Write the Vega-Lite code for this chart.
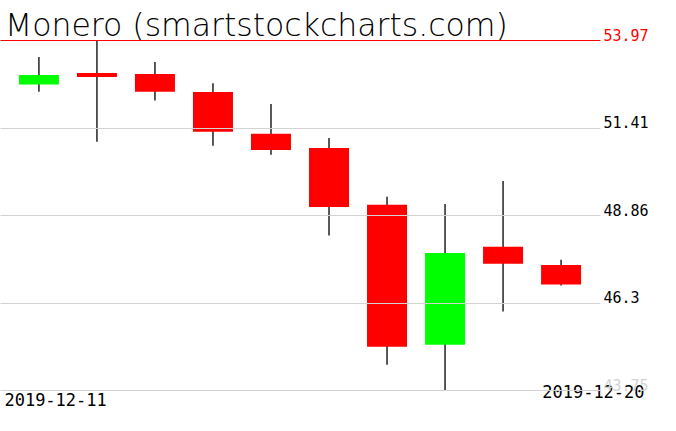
{
  "$schema": "https://vega.github.io/schema/vega-lite/v6.json",
  "width": 600,
  "height": 350,
  "autosize": {"type": "none"},
  "padding": {"left": 0, "top": 40, "right": 76, "bottom": 41},
  "background": "white",
  "config": {"view": {"stroke": null}},
  "title": {
    "text": "Monero (smartstockcharts.com)",
    "anchor": "start",
    "frame": "group",
    "font": "DejaVu Sans",
    "fontWeight": 200,
    "fontSize": 31.5,
    "color": "black",
    "baseline": "alphabetic",
    "offset": -39,
    "dx": 5
  },
  "data": {
    "values": [
      {"date": "2019-12-11", "open": 52.67, "high": 53.47, "low": 52.46, "close": 52.95},
      {"date": "2019-12-12", "open": 53.01, "high": 53.97, "low": 51.00, "close": 52.89},
      {"date": "2019-12-13", "open": 52.98, "high": 53.33, "low": 52.20, "close": 52.46},
      {"date": "2019-12-14", "open": 52.45, "high": 52.71, "low": 50.88, "close": 51.29},
      {"date": "2019-12-15", "open": 51.23, "high": 52.10, "low": 50.62, "close": 50.76},
      {"date": "2019-12-16", "open": 50.82, "high": 51.11, "low": 48.26, "close": 49.09},
      {"date": "2019-12-17", "open": 49.16, "high": 49.39, "low": 44.49, "close": 45.01},
      {"date": "2019-12-18", "open": 45.07, "high": 49.18, "low": 43.75, "close": 47.75},
      {"date": "2019-12-19", "open": 47.93, "high": 49.85, "low": 46.04, "close": 47.44},
      {"date": "2019-12-20", "open": 47.40, "high": 47.55, "low": 46.80, "close": 46.83}
    ]
  },
  "encoding": {
    "x": {
      "field": "date",
      "type": "ordinal",
      "scale": {"type": "point", "padding": 0.671},
      "axis": {
        "orient": "bottom",
        "values": ["2019-12-11", "2019-12-20"],
        "domain": false,
        "ticks": false,
        "grid": false,
        "title": null,
        "labelAngle": 0,
        "labelFont": "DejaVu Sans Mono",
        "labelFontSize": 17,
        "labelColor": "black",
        "labelBaseline": "top",
        "labelOverlap": false,
        "labelAlign": {"condition": {"test": "datum.value == '2019-12-11'", "value": "left"}, "value": "right"},
        "labelOffset": {"condition": {"test": "datum.value == '2019-12-11'", "value": -35}, "value": 83},
        "labelPadding": {"condition": {"test": "datum.value == '2019-12-11'", "value": 2}, "value": -6}
      }
    }
  },
  "layer": [
    {
      "mark": {"type": "rule", "color": "black", "strokeWidth": 1.3},
      "encoding": {
        "y": {
          "field": "low",
          "type": "quantitative",
          "scale": {"domain": [43.75, 53.97], "zero": false, "nice": false},
          "axis": {
            "orient": "right",
            "values": [43.75, 46.3, 48.86, 51.41, 53.97],
            "format": ".4~r",
            "domain": false,
            "ticks": false,
            "grid": true,
            "gridOpacity": 1,
            "gridWidth": 1,
            "gridColor": {"condition": {"test": "datum.value == 53.97", "value": "#ff0000"}, "value": "#d3d3d3"},
            "labelColor": {"condition": [{"test": "datum.value == 53.97", "value": "#ff0000"}, {"test": "datum.value == 43.75", "value": "#d3d3d3"}], "value": "black"},
            "labelFont": "DejaVu Sans Mono",
            "labelFontSize": 15,
            "labelBaseline": "alphabetic",
            "labelPadding": 3,
            "labelOverlap": false,
            "labelFlush": false,
            "title": null,
            "zindex": 1
          }
        },
        "y2": {"field": "high"}
      }
    },
    {
      "mark": {"type": "bar", "size": 40},
      "encoding": {
        "y": {"field": "open", "type": "quantitative"},
        "y2": {"field": "close"},
        "color": {
          "condition": {"test": "datum.close > datum.open", "value": "#00ff00"},
          "value": "#ff0000"
        }
      }
    }
  ]
}
